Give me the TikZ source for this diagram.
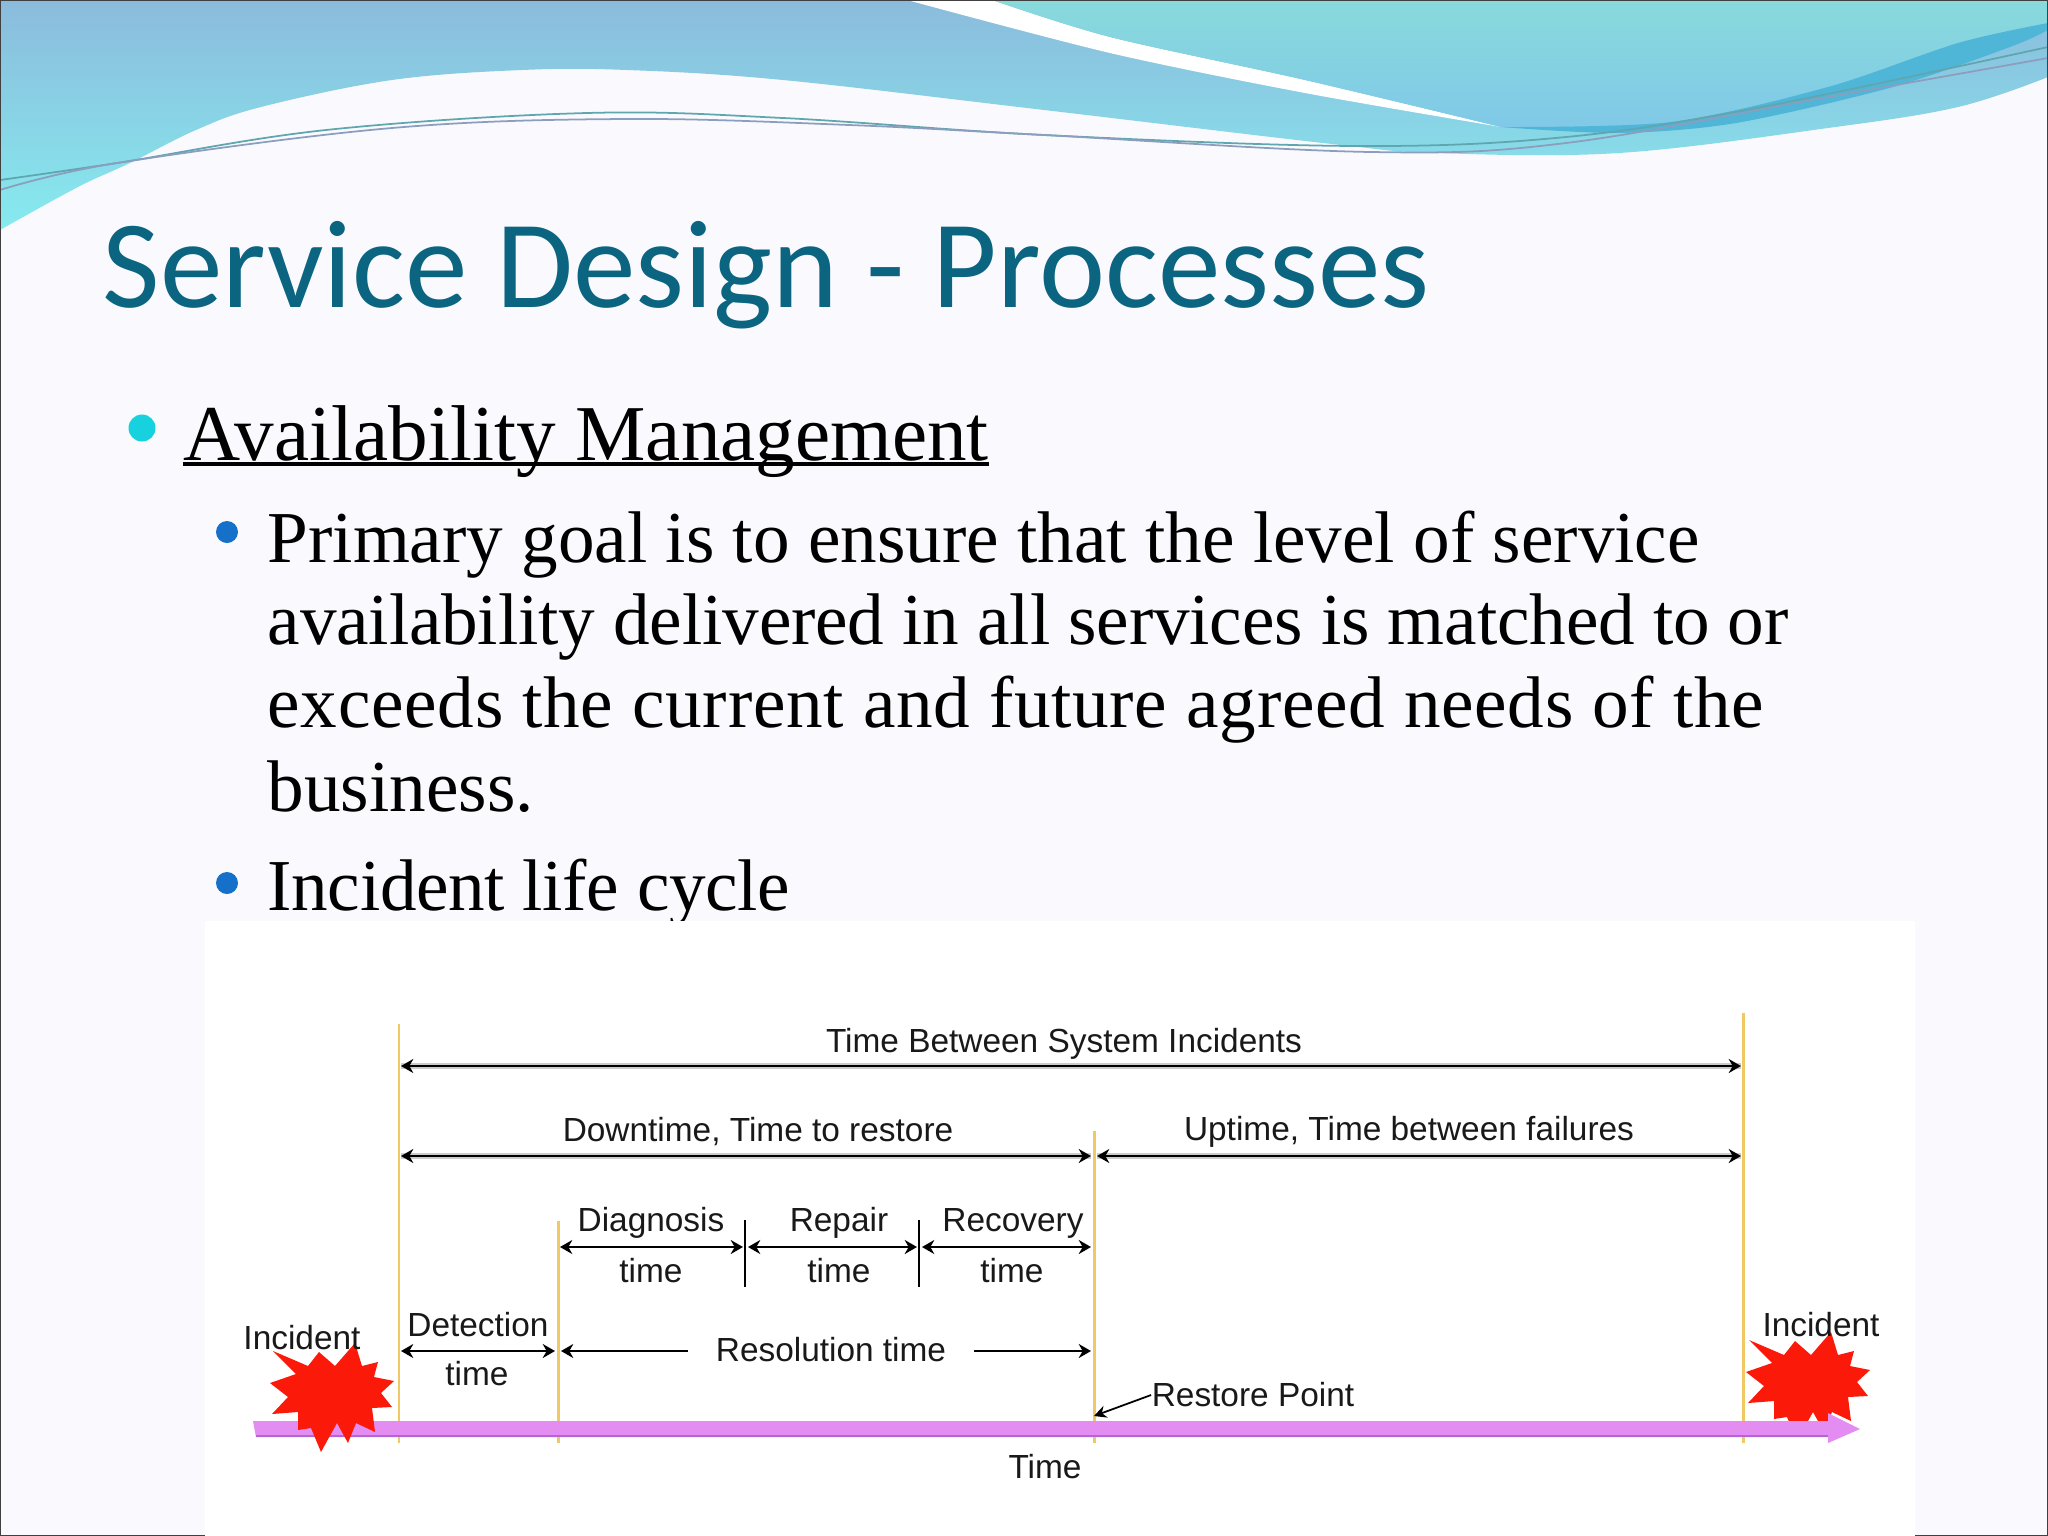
\documentclass[tikz,border=0pt]{standalone}
\usepackage{fontspec}
\setmainfont{Liberation Serif}
\setsansfont{Carlito}
\newfontfamily\chartfont{Liberation Sans}
\usetikzlibrary{calc,arrows.meta}
\definecolor{slidebg}{HTML}{FAFAFE}
\definecolor{titleteal}{HTML}{0B6580}
\definecolor{bulletcyan}{HTML}{17D2DE}
\definecolor{bulletblue}{HTML}{1470C8}
\definecolor{markeryellow}{HTML}{F2C864}
\definecolor{timepink}{HTML}{E38CF2}
\definecolor{timedark}{HTML}{B266D6}
\definecolor{burstred}{HTML}{FB1A0A}
\definecolor{skytop}{HTML}{8BBBDC}
\definecolor{skymid}{HTML}{84CFE3}
\definecolor{skylow}{HTML}{86EBEF}
\definecolor{tealtop}{HTML}{88DADC}
\definecolor{teallow}{HTML}{80C8E8}
\definecolor{bandblue}{HTML}{4FB6D8}
\definecolor{wavegreen}{HTML}{5FA6AE}
\definecolor{waveblue}{HTML}{8C9EBE}
\def\burst(#1,#2){\fill[burstred, shift={(#1,#2)}] (355,1343) -- (362,1366) -- (378,1362) -- (374,1377) -- (394,1381) -- (381,1393) -- (392,1407) -- (372,1408) -- (375,1432) -- (356,1423) -- (348,1443) -- (337,1423) -- (321,1452) -- (311,1428) -- (298,1430) -- (298,1412) -- (272,1414) -- (288,1397) -- (270,1383) -- (296,1374) -- (273,1351) -- (308,1366) -- (319,1352) -- (335,1366) -- cycle;}
\tikzset{
	head/.style={anchor=base west, inner sep=0pt, font=\fontsize{35.6}{35.6}\selectfont\sffamily, text=titleteal},
	lineone/.style={anchor=base west, inner sep=0pt, font=\fontsize{22.5}{22.5}\selectfont},
	linetwo/.style={anchor=base west, inner sep=0pt, font=\fontsize{20.8}{20.8}\selectfont},
	chartlabel/.style={inner sep=0pt, text=black!90, font=\fontsize{9.5}{9.5}\selectfont\chartfont},
	marker/.style={draw=markeryellow, line width=0.85},
	span/.style={draw=black, line width=0.7, {Stealth[length=3.5pt,width=4pt]}-{Stealth[length=3.5pt,width=4pt]}},
	shadowspan/.style={span, preaction={draw=black!20, line width=1.6, arrows=-}},
}
\begin{document}
\begin{tikzpicture}[x=0.01cm, y=-0.01cm]
	\useasboundingbox (0, 0) rectangle (2048, 1536);
	%%%%% BACKGROUND %%%%%
	\fill[slidebg] (0, 0) rectangle (2048, 1536);
	\shade[top color=skytop, middle color=skymid, bottom color=skylow]
		(0, 0) -- plot[smooth, tension=0.6] coordinates {(0, 230) (78, 187) (130, 163) (196, 130) (261, 107) (392, 80) (522, 70) (627, 70) (783, 80) (1044, 110) (1332, 144) (1436, 153) (1619, 153) (1828, 128) (1958, 107) (2048, 77)} -- (2048, 0) -- cycle;
	\fill[white] plot[smooth, tension=0.5] coordinates {(907, 0) (1110, 53) (1305, 93) (1501, 127)} -- plot[smooth, tension=0.5] coordinates {(1501, 127) (1305, 80) (1110, 37) (992, 0)} -- cycle;
	\shade[top color=tealtop, bottom color=teallow]
		plot[smooth, tension=0.5] coordinates {(992, 0) (1110, 37) (1305, 80) (1501, 127)} -- (1619, 133) -- (1828, 97) -- (2048, 23) -- (2048, 0) -- cycle;
	\fill[bandblue] plot[smooth, tension=0.5] coordinates {(1501, 127) (1619, 133) (1736, 123) (1893, 87) (2010, 47) (2048, 30)} -- (2048, 23) -- plot[smooth, tension=0.5] coordinates {(2048, 23) (1958, 43) (1828, 87) (1671, 122) (1501, 127)} -- cycle;
	\draw[draw=wavegreen, line width=0.5] plot[smooth, tension=0.6] coordinates {(0, 180) (117, 163) (326, 130) (587, 113) (783, 118) (1044, 135) (1357, 146) (1566, 137) (1762, 107) (2048, 47)};
	\draw[draw=waveblue, line width=0.5] plot[smooth, tension=0.6] coordinates {(0, 190) (117, 163) (392, 128) (627, 119) (849, 125) (1044, 135) (1371, 152) (1566, 143) (1828, 97) (2048, 58)};
	\draw[draw=black!75, line width=0.8] (0, 0) rectangle (2048, 1536);
	%%%%% TEXT %%%%%
	\node[head] (title) at (102, 307) {Service Design - Processes};
	\fill[bulletcyan] (142, 428) circle (13.5);
	\node[lineone] (avail) at (183, 460) {Availability Management};
	\draw[line width=1.4] ($(avail.base west)+(0, 4)$) -- ($(avail.base east)+(0, 4)$);
	\fill[bulletblue] (227, 532) circle (11);
	\node[linetwo] (goalone) at (267, 562) {Primary goal is to ensure that the level of service};
	\node[linetwo] (goaltwo) at (267, 644) {\addfontfeature{LetterSpace=-0.2}availability delivered in all services is matched to or};
	\node[linetwo] (goalthree) at (267, 727) {\addfontfeature{LetterSpace=1.0}exceeds the current and future agreed needs of the};
	\node[linetwo] (goalfour) at (267, 811) {business.};
	\fill[bulletblue] (227, 883) circle (11);
	\node[linetwo] (cycle) at (267, 910) {\addfontfeature{LetterSpace=-0.5}Incident life cycle};
	%%%%% CHART %%%%%
	\fill[white] (205, 921) rectangle (1915, 1536);
	\begin{scope}
		\clip (1700, 1300) rectangle (1915, 1421);
		\burst(1476, -11);
	\end{scope}
	\draw[marker] (399, 1024) -- (399, 1443);
	\draw[marker] (558, 1221) -- (558, 1443);
	\draw[marker] (1094, 1131) -- (1094, 1443);
	\draw[marker] (1743, 1013) -- (1743, 1443);
	\fill[timepink] (253, 1421) -- (1828, 1421) -- (1828, 1413) -- (1860, 1429) -- (1828, 1443) -- (1828, 1437) -- (256, 1437) -- cycle;
	\fill[timedark] (256, 1434.5) -- (1828, 1434.5) -- (1828, 1437) -- (256, 1437) -- cycle;
	\burst(0, 0);
	\draw[line width=0.6] (745, 1220) -- (745, 1287);
	\draw[line width=0.6] (919, 1220) -- (919, 1287);
	\coordinate (topl) at (401, 1066);
	\coordinate (topr) at (1741, 1066);
	\coordinate (downl) at (401, 1156);
	\coordinate (downr) at (1091, 1156);
	\coordinate (upl) at (1097, 1156);
	\coordinate (upr) at (1741, 1156);
	\coordinate (diagl) at (560, 1247);
	\coordinate (diagr) at (743, 1247);
	\coordinate (repl) at (748, 1247);
	\coordinate (repr) at (917, 1247);
	\coordinate (recl) at (922, 1247);
	\coordinate (recr) at (1091, 1247);
	\coordinate (detl) at (401, 1351);
	\coordinate (detr) at (555, 1351);
	\coordinate (resl) at (561, 1351);
	\coordinate (resr) at (1091, 1351);
	\draw[shadowspan] (topl) -- (topr);
	\draw[shadowspan] (downl) -- (downr);
	\draw[shadowspan] (upl) -- (upr);
	\draw[span] (diagl) -- (diagr);
	\draw[span] (repl) -- (repr);
	\draw[span] (recl) -- (recr);
	\draw[span] (detl) -- (detr);
	\draw[span] (resl) -- (resr);
	\node[chartlabel] (between) at (1064, 1044) {Time Between System Incidents};
	\node[chartlabel] (downtime) at (758, 1132) {Downtime, Time to restore};
	\node[chartlabel] (uptime) at (1409, 1132) {Uptime, Time between failures};
	\node[chartlabel] (diagnosis) at (651, 1223) {Diagnosis};
	\node[chartlabel] (diagtime) at (651, 1271) {time};
	\node[chartlabel] (repair) at (839, 1223) {Repair};
	\node[chartlabel] (reptime) at (839, 1271) {time};
	\node[chartlabel] (recovery) at (1013, 1223) {Recovery};
	\node[chartlabel] (rectime) at (1012, 1271) {time};
	\node[chartlabel] (detection) at (478, 1325) {Detection};
	\node[chartlabel] (dettime) at (477, 1374) {time};
	\node[chartlabel, fill=white, inner xsep=8pt] (resolution) at (831, 1350) {Resolution time};
	\node[chartlabel] (incleft) at (302, 1338) {Incident};
	\node[chartlabel] (incright) at (1821, 1325) {Incident};
	\node[chartlabel] (restore) at (1253, 1395) {Restore Point};
	\node[chartlabel] (timeaxis) at (1045, 1467) {Time};
	\coordinate (restoretip) at (1094, 1416);
	\draw[line width=0.5, -{Stealth[length=3.5pt,width=3.5pt]}] (restore.west) -- (restoretip);
\end{tikzpicture}
\end{document}
